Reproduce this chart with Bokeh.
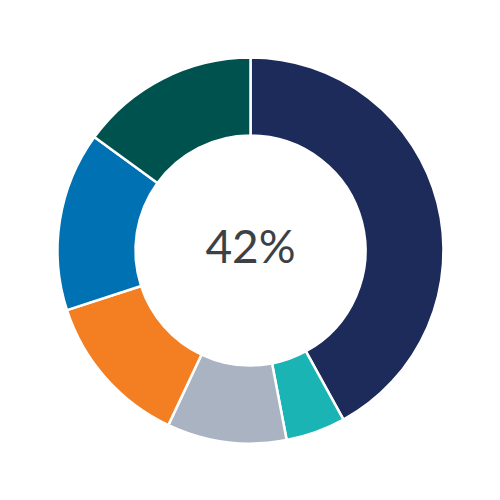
import math
from bokeh.plotting import figure
from bokeh.models import ColumnDataSource, Range1d
from bokeh.core.properties import value
from bokeh.embed import file_html
from bokeh.resources import INLINE

categories = ["A", "B", "C", "D", "E", "F"]
shares = [42, 5, 10, 13, 15, 15]
colors = ["#1c2b5a", "#1bb4b5", "#a9b3c2", "#f47f22", "#0071b3", "#00524f"]
center_label = "42%"

total = sum(shares)
starts, ends = [], []
cum = 0
for s in shares:
    starts.append(math.pi / 2 - 2 * math.pi * cum / total)
    cum += s
    ends.append(math.pi / 2 - 2 * math.pi * cum / total)

src = ColumnDataSource(dict(cat=categories, share=shares, color=colors,
                            start=starts, end=ends))

p = figure(width=484, height=484, output_backend="svg", toolbar_location=None,
           x_range=Range1d(-250, 234), y_range=Range1d(-234, 250),
           min_border=0)
p.axis.visible = False
p.grid.visible = False
p.outline_line_color = None
p.background_fill_color = "white"
p.border_fill_color = "white"

p.annular_wedge(x=0, y=0, inner_radius=115, outer_radius=193,
                start_angle="start", end_angle="end", direction="clock",
                fill_color="color", line_color="white", line_width=2.5,
                source=src)

p.text(x=[0], y=[5], text=[center_label], text_align="center",
       text_baseline="middle", text_font=value("Lato"),
       text_font_size="46px", text_color="#3c4146")

open("out.html", "w").write(file_html(p, INLINE))
